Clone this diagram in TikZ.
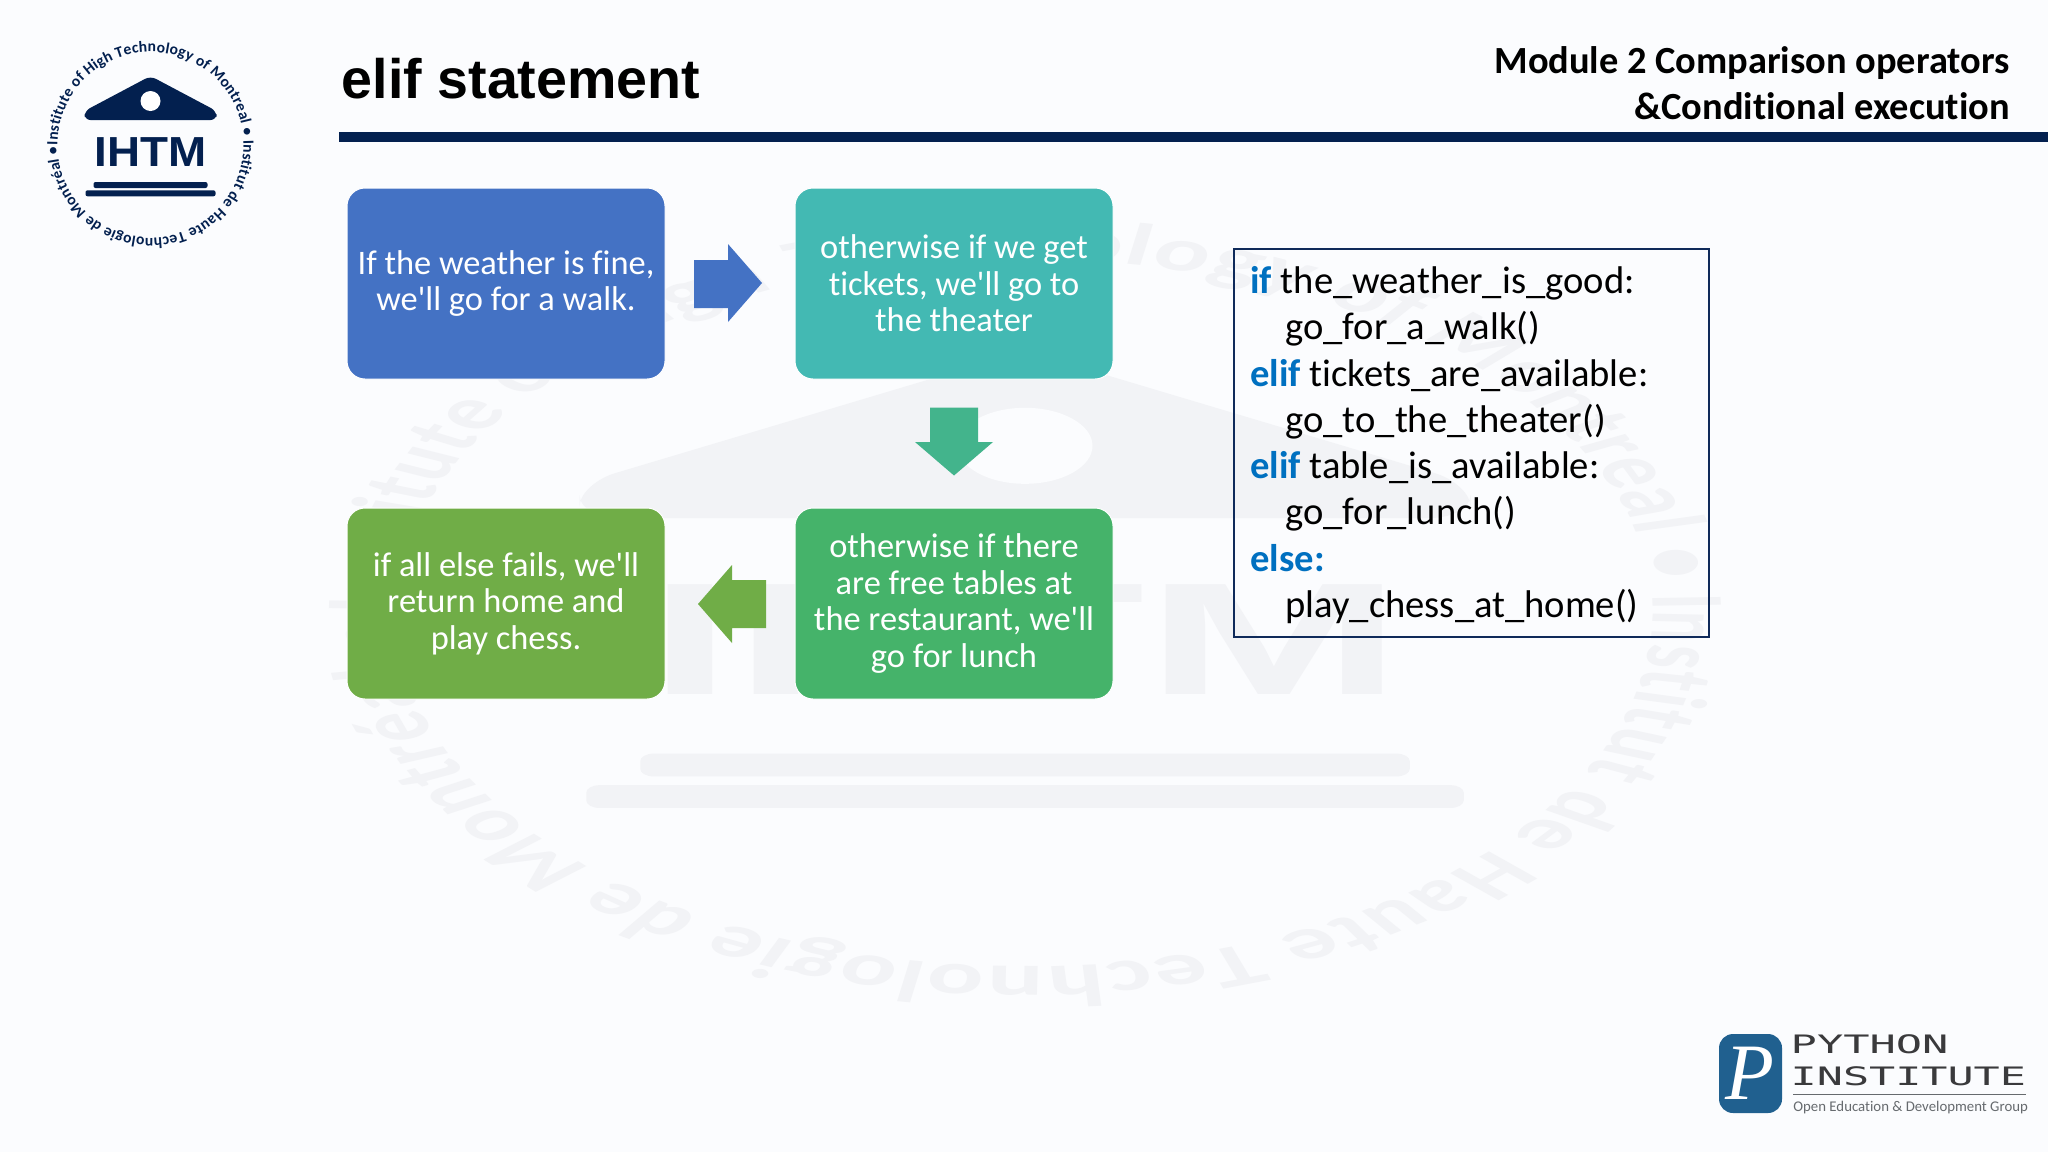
\documentclass[tikz,border=0pt]{standalone}
\usepackage{fontspec}
\usetikzlibrary{decorations.text}
\setmainfont{Carlito}
\newfontfamily\arialf{Liberation Sans}
\newfontfamily\carli{Carlito}[Ligatures=NoCommon]
\newfontfamily\monof{DejaVu Sans Mono}
\newfontfamily\serifi{Liberation Serif}
\definecolor{pagebg}{HTML}{FBFCFE}
\definecolor{navy}{HTML}{0F2A5A}
\definecolor{barnavy}{HTML}{03204F}
\definecolor{codeblue}{HTML}{0070C0}
\definecolor{bluebox}{HTML}{4472C4}
\definecolor{tealbox}{HTML}{43B9B3}
\definecolor{greenbox}{HTML}{45B36A}
\definecolor{olivebox}{HTML}{70AD47}
\definecolor{tealarrow}{HTML}{43B48C}
\definecolor{pyblue}{HTML}{20608F}
\definecolor{pydark}{HTML}{3A3A3C}
\definecolor{pygray}{HTML}{666A6E}
\definecolor{wmark}{HTML}{F2F3F6}
\tikzset{
  x=0.5pt,y=-0.5pt,
  flowbox/.style={rounded corners=9pt,draw=white,line width=0.5pt,minimum width=159pt,minimum height=95.5pt,inner sep=0pt,align=center,text=white,font=\carli\fontsize{17.2}{18.3}\selectfont},
  codeline/.style={anchor=base west,inner sep=0pt,font=\carli\fontsize{19.3}{23}\selectfont,text=black},
  headline/.style={anchor=base east,inner sep=0pt,font=\carli\fontsize{19.2}{23}\selectfont\bfseries,text=black},
}
\newcommand{\kwd}[1]{\textcolor{codeblue}{\bfseries #1}}
% logo drawn in local units, y up, centred on the ring
\newcommand{\ihtmlogo}[2]{%
  \fill[#1,rounded corners=3pt] (-66,25) -- (-66,34) -- (0,69) -- (66,34) -- (66,25) -- cycle;
  \fill[#2] (0,44) circle[radius=10];
  \node[inner sep=0pt,text=#1,font=\fontsize{21}{21}\selectfont\arialf\bfseries,xscale=1.09] (#1ihtm) at (0,-7) {IHTM};
  \fill[#1,rounded corners=1pt] (-57,-37) rectangle (57,-43);
  \fill[#1,rounded corners=1pt] (-65,-45.3) rectangle (65,-51.3);
  \path[decorate,decoration={text along path,text align={fit to path},
    text={|\carli\fontsize{7.8}{9}\selectfont\bfseries\color{#1}|Institute of High Technology of Montreal • Institut de Haute Technologie de Montréal • }}]
    (-93,0) arc[start angle=180,delta angle=-359,radius=93];
}
\begin{document}
\begin{tikzpicture}
\useasboundingbox (0,0) rectangle (2048,1152);
\fill[pagebg] (0,0) rectangle (2048,1152);

% watermark
\begin{scope}[transform canvas={shift={(512.5pt,-306.5pt)},xscale=6.75,yscale=3.8},x=0.5pt,y=0.5pt]
  \ihtmlogo{wmark}{pagebg}
\end{scope}

% small logo
\begin{scope}[transform canvas={shift={(75.25pt,-72.5pt)}},x=0.5pt,y=0.5pt]
  \ihtmlogo{barnavy}{white}
\end{scope}

% header
\node[anchor=base west,inner sep=0pt,font=\fontsize{27.8}{30}\selectfont\arialf\bfseries] (title) at (341.5,98) {elif statement};
\node[headline] (mod1) at (2010,73) {Module 2 Comparison operators};
\node[headline] (mod2) at (2010,119) {\&Conditional execution};
\fill[barnavy] (339,131.7) rectangle (2048,142);

% flow boxes
\node[flowbox,fill=bluebox] (b1) at (506,283.5) {If the weather is fine,\\we'll go for a walk.};
\node[flowbox,fill=tealbox] (b2) at (954,283.5) {otherwise if we get\\tickets, we'll go to\\the theater};
\node[flowbox,fill=greenbox] (b3) at (954,603.5) {otherwise if there\\are free tables at\\the restaurant, we'll\\go for lunch};
\node[flowbox,fill=olivebox] (b4) at (506,603.5) {if all else fails, we'll\\return home and\\play chess.};

% block arrows
\fill[bluebox] (694,260) -- (728,260) -- (728,244) -- (762,283) -- (728,322) -- (728,308) -- (694,308) -- cycle;
\fill[tealarrow] (930,407.5) -- (978,407.5) -- (978,442) -- (993,442) -- (954,475.5) -- (915,442) -- (930,442) -- cycle;
\fill[olivebox] (766,580) -- (732,580) -- (732,565) -- (698,604) -- (732,643) -- (732,628) -- (766,628) -- cycle;

% code box
\node[draw=navy,line width=0.6pt,minimum width=237.5pt,minimum height=194pt,inner sep=0pt] (code) at (1471.5,443) {};
\node[codeline] (c1) at (1250,293.5) {\kwd{if} the\_weather\_is\_good:};
\node[codeline] (c2) at (1285,339.5) {go\_for\_a\_walk()};
\node[codeline] (c3) at (1250,386) {\kwd{elif} tickets\_are\_available:};
\node[codeline] (c4) at (1285,432) {go\_to\_the\_theater()};
\node[codeline] (c5) at (1250,478.5) {\kwd{elif} table\_is\_available:};
\node[codeline] (c6) at (1285,524.5) {go\_for\_lunch()};
\node[codeline] (c7) at (1250,571) {\kwd{else:}};
\node[codeline] (c8) at (1285,617) {play\_chess\_at\_home()};

% python institute logo
\fill[pyblue,rounded corners=7pt] (1719,1034) rectangle (1782,1113);
\node[inner sep=0pt,text=white,font=\fontsize{40}{40}\selectfont\serifi\itshape] (pyp) at (1750,1073) {P};
\node[anchor=base west,inner sep=0pt,text=pydark,font=\fontsize{12.7}{13}\selectfont\monof,xscale=1.72,transform shape] (py1) at (1790,1053) {PYTHON};
\node[anchor=base west,inner sep=0pt,text=pydark,font=\fontsize{12.7}{13}\selectfont\monof,xscale=1.71,transform shape] (py2) at (1790,1085) {INSTITUTE};
\coordinate (ruleL) at (1793,1094);
\coordinate (ruleR) at (2026,1094);
\draw[pygray,line width=0.5pt] (ruleL) -- (ruleR);
\node[anchor=base west,inner sep=0pt,text=pygray,font=\carli\fontsize{7.4}{9}\selectfont] (py3) at (1793,1111) {Open Education \& Development Group};
\end{tikzpicture}
\end{document}
